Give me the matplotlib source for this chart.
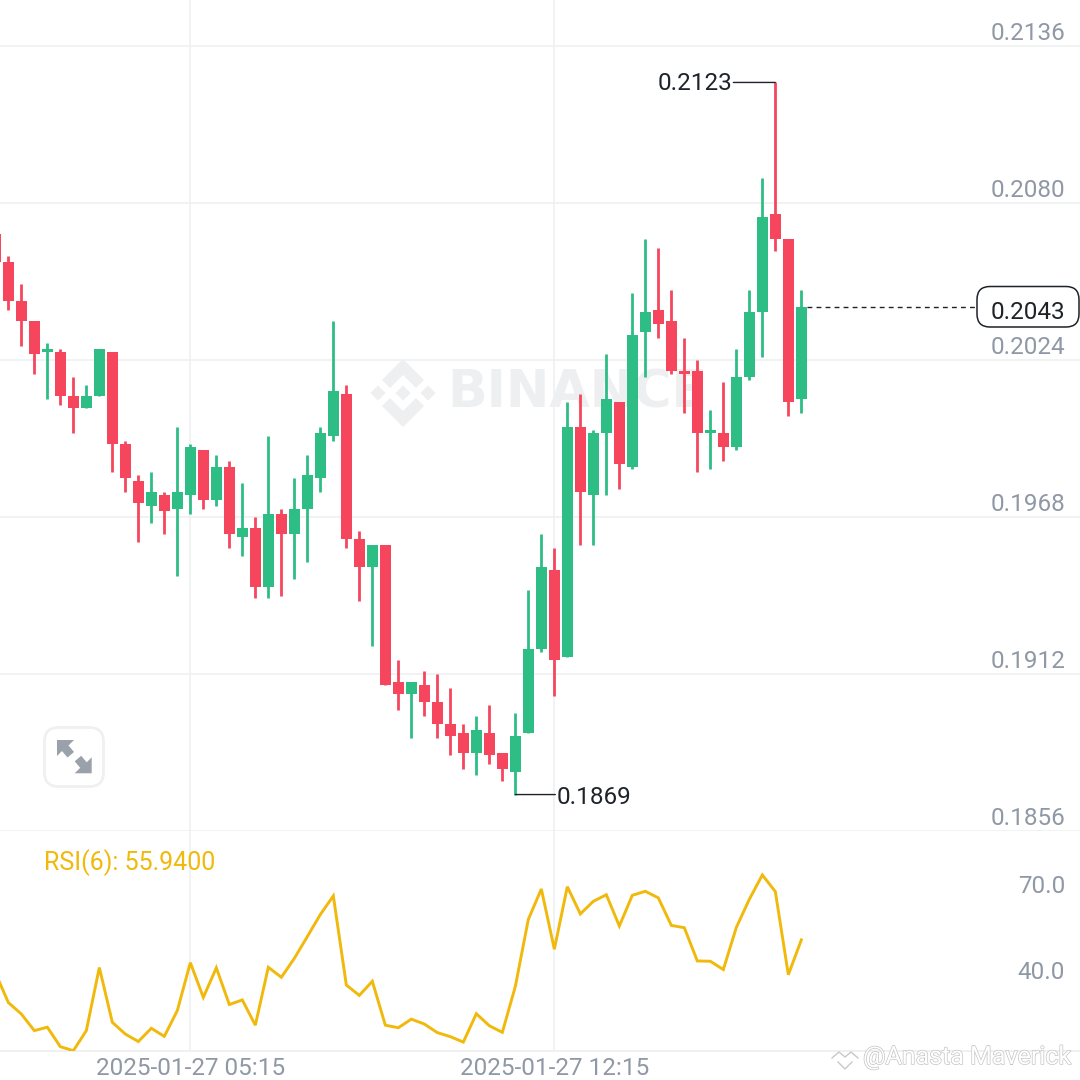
import numpy as np
import matplotlib
matplotlib.use("Agg")
import matplotlib.pyplot as plt
from matplotlib.patches import FancyBboxPatch, Polygon
import matplotlib.patheffects as pe

plt.rcParams['font.family'] = ['Roboto', 'DejaVu Sans']

opens = [.2069,.2059,.2045,.2038,.2027,.2027,.2011,.2007,.2011,.2027,.1994,.1981,.1972,.1976,.1971,.1976,.1992,.1974,.1986,.1961,.1964,.1943,.1969,.1962,.1971,.1982,.1997,.2012,.1960,.1950,.1958,.1909,.1905,.1908,.1902,.1894,.1891,.1884,.1891,.1884,.1877,.1891,.1921,.1949,.1918,.2000,.1976,.1998,.2009,.1986,.2034,.2042,.2038,.2020,.2020,.1998,.1998,.1993,.2018,.2041,.2076,.2067,.2010]
highs = [.2069,.2061,.2051,.2038,.2030,.2028,.2018,.2015,.2028,.2027,.1995,.1983,.1984,.1977,.2000,.1994,.1992,.1990,.1988,.1980,.1968,.1997,.1971,.1982,.1990,.2000,.2038,.2015,.1963,.1958,.1958,.1917,.1909,.1913,.1912,.1907,.1894,.1897,.1901,.1884,.1898,.1942,.1962,.1957,.2009,.2012,.1999,.2026,.2009,.2048,.2067,.2064,.2049,.2032,.2024,.2006,.2016,.2028,.2049,.2089,.2123,.2067,.2049]
lows = [.2059,.2042,.2029,.2019,.2010,.2008,.1998,.2007,.2011,.1984,.1977,.1959,.1966,.1962,.1947,.1969,.1971,.1972,.1957,.1954,.1939,.1939,.1940,.1946,.1952,.1977,.1995,.1957,.1938,.1922,.1908,.1899,.1889,.1897,.1889,.1883,.1878,.1876,.1880,.1874,.1869,.1891,.1920,.1904,.1918,.1958,.1958,.1976,.1978,.1985,.2018,.2032,.2019,.2005,.1984,.1985,.1988,.1992,.2017,.2025,.2063,.2004,.2005]
closes = [.2059,.2045,.2038,.2026,.2028,.2011,.2007,.2011,.2028,.1994,.1982,.1973,.1977,.1970,.1977,.1993,.1974,.1986,.1962,.1964,.1943,.1969,.1962,.1971,.1983,.1998,.2013,.1960,.1950,.1958,.1908,.1905,.1909,.1902,.1894,.1890,.1884,.1892,.1883,.1878,.1890,.1921,.1950,.1917,.2000,.1977,.1998,.2010,.1987,.2033,.2041,.2037,.2020,.2019,.1998,.1999,.1993,.2018,.2041,.2075,.2067,.2009,.2043]
rsi = [44.5,34.1,30.1,24.3,25.5,18.7,17.3,24.3,46.3,27.2,23.1,20.5,25.1,22.3,31.3,48.0,35.9,46.2,33.4,35.0,26.2,46.4,42.9,49.5,57.1,64.8,71.3,40.2,36.6,41.5,26.2,25.3,28.3,26.6,23.6,22.2,20.3,30.2,26.0,23.7,39.7,63.1,73.7,52.7,74.5,65.0,69.4,71.7,60.8,71.5,72.9,70.6,61.0,60.2,48.6,48.5,45.6,60.3,70.1,78.6,72.8,43.8,55.94]
price_ticks = [0.2136, 0.2080, 0.2024, 0.1968, 0.1912, 0.1856]
rsi_ticks = [70.0, 40.0]
time_pos = [15, 43]
time_labels = ['2025-01-27 05:15', '2025-01-27 12:15']
high_label = 0.2123
low_label = 0.1869
last_price = 0.2043

GREEN, RED, YEL = '#2EBD85', '#F6465D', '#F0B90B'
GRID, GREY, DARK = '#EEF0F2', '#8F98A5', '#1E2329'
FS = 17.5

fig = plt.figure(figsize=(10.8, 10.8), dpi=100, facecolor='white')
ax = fig.add_axes([0, 249/1080, 1, 831/1080])
ar = fig.add_axes([0, 29/1080, 1, 220/1080])
ov = fig.add_axes([0, 0, 1, 1], zorder=5)
ov.set_xlim(0, 1080); ov.set_ylim(1080, 0); ov.axis('off'); ov.patch.set_alpha(0)

x = np.arange(len(opens))
xl = ((0 - 8.33) / 13 + 1, (1080 - 8.33) / 13 + 1)
ax.set_xlim(*xl); ar.set_xlim(*xl)
ax.set_ylim(0.1856, 0.2136 + 46 / 28035.7)
ar.set_ylim(70 - 151.4 / 2.867, 70 + 68.6 / 2.867)

for a in (ax, ar):
    a.set_facecolor('none')
    a.tick_params(left=False, bottom=False, labelleft=False, labelbottom=False)
    for s in a.spines.values():
        s.set_visible(False)
    for t in time_pos:
        a.axvline(t, color=GRID, lw=1.2, zorder=0)
ar.spines['bottom'].set_visible(True); ar.spines['bottom'].set_color(GRID); ar.spines['bottom'].set_linewidth(1.4)

for p in price_ticks:
    ax.annotate(f'{p:.4f}', xy=(1, p), xycoords=ax.get_yaxis_transform(), xytext=(-15, 12.5),
                textcoords='offset pixels', ha='right', va='center', fontsize=FS, color=GREY, annotation_clip=False)
    ax.axhline(p, color=GRID, lw=1.2, zorder=0)
for r in rsi_ticks:
    ar.annotate(f'{r:.1f}', xy=(1, r), xycoords=ar.get_yaxis_transform(), xytext=(-15, 13),
                textcoords='offset pixels', ha='right', va='center', fontsize=FS, color=GREY, annotation_clip=False)
for t, l in zip(time_pos, time_labels):
    ar.annotate(l, xy=(t, 0), xycoords=ar.get_xaxis_transform(), xytext=(0, -24),
                textcoords='offset pixels', ha='center', va='baseline', fontsize=FS, color=GREY, annotation_clip=False)

# watermark
cx, cy = 403, 393
def diamond(dx, dy, r=7.5):
    return [(cx + dx, cy + dy - r), (cx + dx + r, cy + dy), (cx + dx, cy + dy + r), (cx + dx - r, cy + dy)]
wm = '#EEEFF0'
wax = fig.add_axes([0, 0, 1, 1], zorder=-1)
wax.set_xlim(0, 1080); wax.set_ylim(1080, 0); wax.axis('off')
for d in [(0, 0), (-25, 0), (25, 0)]:
    wax.add_patch(Polygon(diamond(*d), color=wm, lw=0))
top = [(0, -34), (21, -13), (13, -5), (0, -18), (-13, -5), (-21, -13)]
wax.add_patch(Polygon([(cx + a, cy + b) for a, b in top], color=wm, lw=0))
wax.add_patch(Polygon([(cx + a, cy - b) for a, b in top], color=wm, lw=0))
wax.text(447, 394, 'BINANCE', fontsize=37.5, fontweight='bold', color=wm, ha='left', va='center', family='DejaVu Sans')
ax.set_zorder(1); ar.set_zorder(1)

# candles
colors = [GREEN if c >= o else RED for o, c in zip(opens, closes)]
ax.vlines(x, lows, highs, colors=colors, lw=2.0, zorder=2)
ax.bar(x, np.abs(np.array(closes) - np.array(opens)), bottom=np.minimum(opens, closes), width=10.4 / 13,
       color=colors, lw=0, zorder=3)

# rsi
ar.plot(x, rsi, color=YEL, lw=2.1, zorder=3, solid_joinstyle='miter')
ov.text(44, 863, f'RSI(6): {rsi[-1]:.4f}', fontsize=18.0, color=YEL, ha='left', va='center')

# high / low annotations
ih = int(np.argmax(highs)); il = int(np.argmin(lows))
for px, lbl, dx, ha, tx, ty in [(x[ih], high_label, -42, 'right', -43, -1.5), (x[il], low_label, 40, 'left', 41, -2.5)]:
    ax.annotate('', xy=(px, lbl), xytext=(dx, 0), textcoords='offset pixels',
                arrowprops=dict(arrowstyle='-', color=DARK, lw=1, shrinkA=0, shrinkB=0))
    ax.annotate(f'{lbl:.4f}', xy=(px, lbl), xytext=(tx, ty), textcoords='offset pixels',
                ha=ha, va='center', fontsize=FS, color=DARK)

# last price
ax.hlines(last_price, x[-1] + 0.4, xl[1] - 8, colors=DARK, lw=1, linestyles=(0, (3.5, 3)), zorder=2)
ov.add_patch(FancyBboxPatch((988, 297.5), 80, 18.5, boxstyle='round,pad=11,rounding_size=13',
                            fc='white', ec=DARK, lw=1.1))
ov.text(1065, 312.5, f'{last_price:.4f}', fontsize=FS, color=DARK, ha='right', va='center')

# expand button
ov.add_patch(FancyBboxPatch((58, 741), 32, 32, boxstyle='round,pad=13.5,rounding_size=14',
                            fc='white', ec=GRID, lw=2.0))
a1 = [(57, 740), (74, 740), (68.5, 745.5), (74, 752), (67.5, 757.5), (62, 751), (57, 756)]
ov.add_patch(Polygon(a1, color='#9AA1AB', lw=0))
ov.add_patch(Polygon([(148.7 - a, 1513.3 - b) for a, b in a1], color='#9AA1AB', lw=0))

# author watermark
stroke = [pe.withStroke(linewidth=1.0, foreground='#C4C4C4')]
ov.text(863, 1057, '@Anasta Maverick', fontsize=18, color='white', ha='left', va='center',
        path_effects=stroke, family='Roboto')
for (lx, ly) in [([832, 839, 845, 851, 858], [1058, 1052, 1057, 1052, 1058]),
                 ([838, 845, 852], [1062, 1069, 1062])]:
    ov.plot(lx, ly, color='#C8C8C8', lw=1.0)

fig.savefig('out.png', dpi=100, facecolor='white')
